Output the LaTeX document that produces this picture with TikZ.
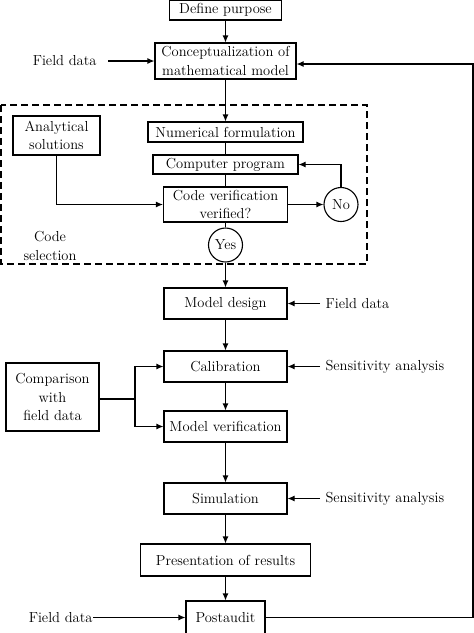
\documentclass[tikz,border=0pt]{standalone}
\usetikzlibrary{arrows.meta}
\begin{document}
\begin{tikzpicture}[x=1pt,y=-1pt,
  line width=1.1pt,
  every node/.style={font=\fontsize{14.5}{18.5}\selectfont, inner sep=0pt},
  box/.style={draw, rectangle, align=center},
  circ/.style={draw, circle, minimum size=34pt},
  lbl/.style={align=center},
  arr/.style={-{Latex[length=7pt,width=6pt]}},
  dashbox/.style={draw, dash pattern=on 7pt off 4pt}
]
\useasboundingbox (0,0) rectangle (474,633);

% main chain
\node[box, minimum width=112pt, minimum height=20pt] (def) at (225.5,10) {Define purpose};
\node[box, minimum width=141pt, minimum height=36pt] (concept) at (225.5,61) {Conceptualization of\\mathematical model};
\node[box, minimum width=155pt, minimum height=20pt] (num) at (225.5,132) {Numerical formulation};
\node[box, minimum width=145pt, minimum height=19pt] (comp) at (225.5,164.5) {Computer program};
\node[box, minimum width=124pt, minimum height=35pt] (codever) at (225.5,204.5) {Code verification\\verified?};
\node[circ] (no) at (341,204.5) {No};
\node[circ] (yes) at (225.5,245) {Yes};
\node[box, minimum width=87pt, minimum height=39pt] (anal) at (56.5,135.5) {Analytical\\solutions};
\node[lbl] (codesel) at (50,246) {Code\\selection};
\node[box, minimum width=123pt, minimum height=31pt] (design) at (225.5,303.5) {Model design};
\node[box, minimum width=123pt, minimum height=31pt] (calib) at (225.5,366.5) {Calibration};
\node[box, minimum width=93pt, minimum height=68pt] (compar) at (52.5,397) {Comparison\\with\\field data};
\node[box, minimum width=123pt, minimum height=31pt] (modver) at (225.5,426.5) {Model verification};
\node[box, minimum width=123pt, minimum height=31pt] (sim) at (225.5,498.5) {Simulation};
\node[box, minimum width=170pt, minimum height=32pt] (pres) at (225.5,560) {Presentation of results};
\node[box, minimum width=79pt, minimum height=33pt] (post) at (225.5,617.5) {Postaudit};

% side labels
\node[anchor=east] (fd1) at (97,61) {Field data};
\node[anchor=west] (fd2) at (325,303.5) {Field data};
\node[anchor=west] (sa1) at (325,366.5) {Sensitivity analysis};
\node[anchor=west] (sa2) at (325,498.5) {Sensitivity analysis};
\node[anchor=east] (fd3) at (93,617.5) {Field data};

% dashed code-selection frame
\draw[dashbox] (1,105) rectangle (367,264);

% connectors
\draw[arr] (def) -- (concept);
\draw[arr, shorten <=11pt] (fd1.east) -- (concept.west |- fd1.east);
\draw[arr] (concept) -- (num);
\draw (num) -- (comp);
\draw (comp) -- (codever);
\draw[arr] (codever) -- (no);
\draw[arr] (no.north) |- (comp.east);
\draw[arr] (anal.south) |- (codever.west);
\draw (codever) -- (yes);
\draw[arr] (yes) -- (design);
\draw[arr, shorten <=5pt] (fd2.west) -- (design.east |- fd2.west);
\draw[arr] (design) -- (calib);
\draw[arr, shorten <=5pt] (sa1.west) -- (calib.east |- sa1.west);
\draw[arr] (calib) -- (modver);
\coordinate (br) at (135,399);
\draw (compar.east |- br) -- (br);
\draw[arr] (br) |- (calib.west);
\draw[arr] (br) |- (modver.west);
\draw[arr] (modver) -- (sim);
\draw[arr, shorten <=5pt] (sa2.west) -- (sim.east |- sa2.west);
\draw[arr] (sim) -- (pres);
\draw[arr] (pres) -- (post);
\draw[arr] (fd3.east) -- (post.west |- fd3.east);
\coordinate (fb) at (473,64);
\draw[arr] (post.east) -| (fb) -- (concept.east |- fb);
\end{tikzpicture}
\end{document}
